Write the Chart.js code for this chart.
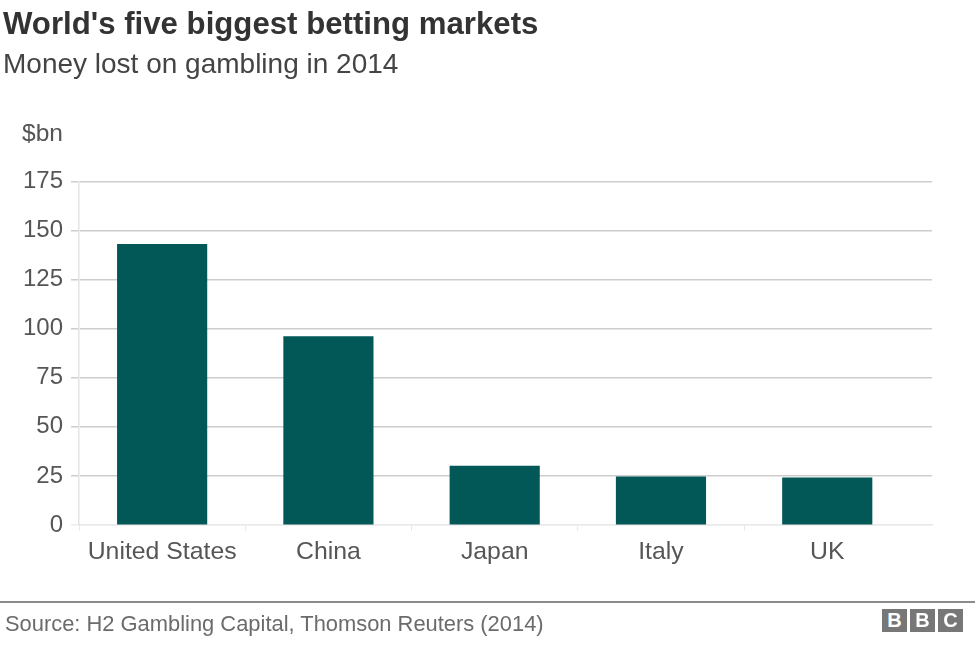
<!DOCTYPE html>
<html>
<head>
<meta charset="utf-8">
<script src="https://cdn.jsdelivr.net/npm/chart.js@4"></script>
<style>
html,body{margin:0;padding:0;background:#fff;width:976px;height:645px;overflow:hidden;font-family:"Liberation Sans",Arial,sans-serif}
#c{position:absolute;left:0;top:0}
.t{position:absolute;white-space:nowrap;line-height:1}
#title{left:3px;top:8px;font-size:31.2px;font-weight:bold;color:#333}
#sub{left:3px;top:50px;font-size:28px;color:#444}
#unit{left:22px;top:121px;font-size:24.5px;color:#555}
#rule{position:absolute;left:0;top:601px;width:975px;height:2px;background:#8c8c8c}
#src{left:5px;top:613px;font-size:21.9px;color:#6b6b6b}
.b{position:absolute;top:609px;width:25px;height:23px;background:#777;color:#fff;font-weight:bold;font-size:20px;line-height:23px;text-align:center}
</style>
</head>
<body>
<canvas id="c" width="976" height="645"></canvas>
<div class="t" id="title">World's five biggest betting markets</div>
<div class="t" id="sub">Money lost on gambling in 2014</div>
<div class="t" id="unit">$bn</div>
<div id="rule"></div>
<div class="t" id="src">Source: H2 Gambling Capital, Thomson Reuters (2014)</div>
<div class="b" style="left:882px">B</div>
<div class="b" style="left:910px">B</div>
<div class="b" style="left:938px">C</div>
<script>
const categories = ["United States", "China", "Japan", "Italy", "UK"];
const lossesBn = [143, 96, 30, 24.5, 24];
const yTicks = [0, 25, 50, 75, 100, 125, 150, 175];
const slotEdges = [-0.5, 0.5, 1.5, 2.5, 3.5];
const xMin = -0.5, xMax = 4.63;

const GREY = "#565656";
new Chart(document.getElementById("c"), {
  type: "bar",
  data: {
    datasets: [{
      data: categories.map((c, i) => ({x: i, y: lossesBn[i]})),
      backgroundColor: "#025856",
      borderWidth: 0,
      barThickness: 89.5
    }]
  },
  options: {
    responsive: false,
    animation: false,
    layout: {padding: {left: 0, right: 44, top: 181.5, bottom: 0}},
    plugins: {legend: {display: false}, tooltip: {enabled: false}},
    scales: {
      x: {
        type: "linear", min: xMin, max: xMax, weight: 1, offset: false,
        afterBuildTicks: s => { s.ticks = categories.map((c, i) => ({value: i})); },
        afterFit: s => { s.height = 114; },
        border: {display: false},
        grid: {display: false, drawTicks: false},
        ticks: {
          autoSkip: false, maxRotation: 0, padding: 6,
          color: GREY, font: {family: "Liberation Sans", size: 24.8},
          callback: v => categories[v]
        }
      },
      edges: {
        type: "linear", position: "bottom", min: xMin, max: xMax, weight: 0, offset: false,
        afterBuildTicks: s => { s.ticks = slotEdges.map(v => ({value: v})); },
        afterFit: s => { s.height = 6; },
        border: {display: true, color: "#e9e9e9", width: 1.5},
        grid: {drawOnChartArea: false, drawTicks: true, tickLength: 6, color: "#e9e9e9", lineWidth: 1, offset: false},
        ticks: {display: false}
      },
      y: {
        min: 0, max: 175,
        afterBuildTicks: s => { s.ticks = yTicks.map(v => ({value: v})); },
        afterFit: s => { s.width = 79; },
        border: {display: true, color: "#e4e4e4", width: 1.5},
        grid: {
          color: ctx => ctx.tick && ctx.tick.value === 0 ? "#ececec" : "#cdcdcd",
          lineWidth: 1.5, tickLength: 8
        },
        ticks: {padding: 8, color: GREY, font: {family: "Liberation Sans", size: 24}}
      }
    }
  }
});
</script>
</body>
</html>
